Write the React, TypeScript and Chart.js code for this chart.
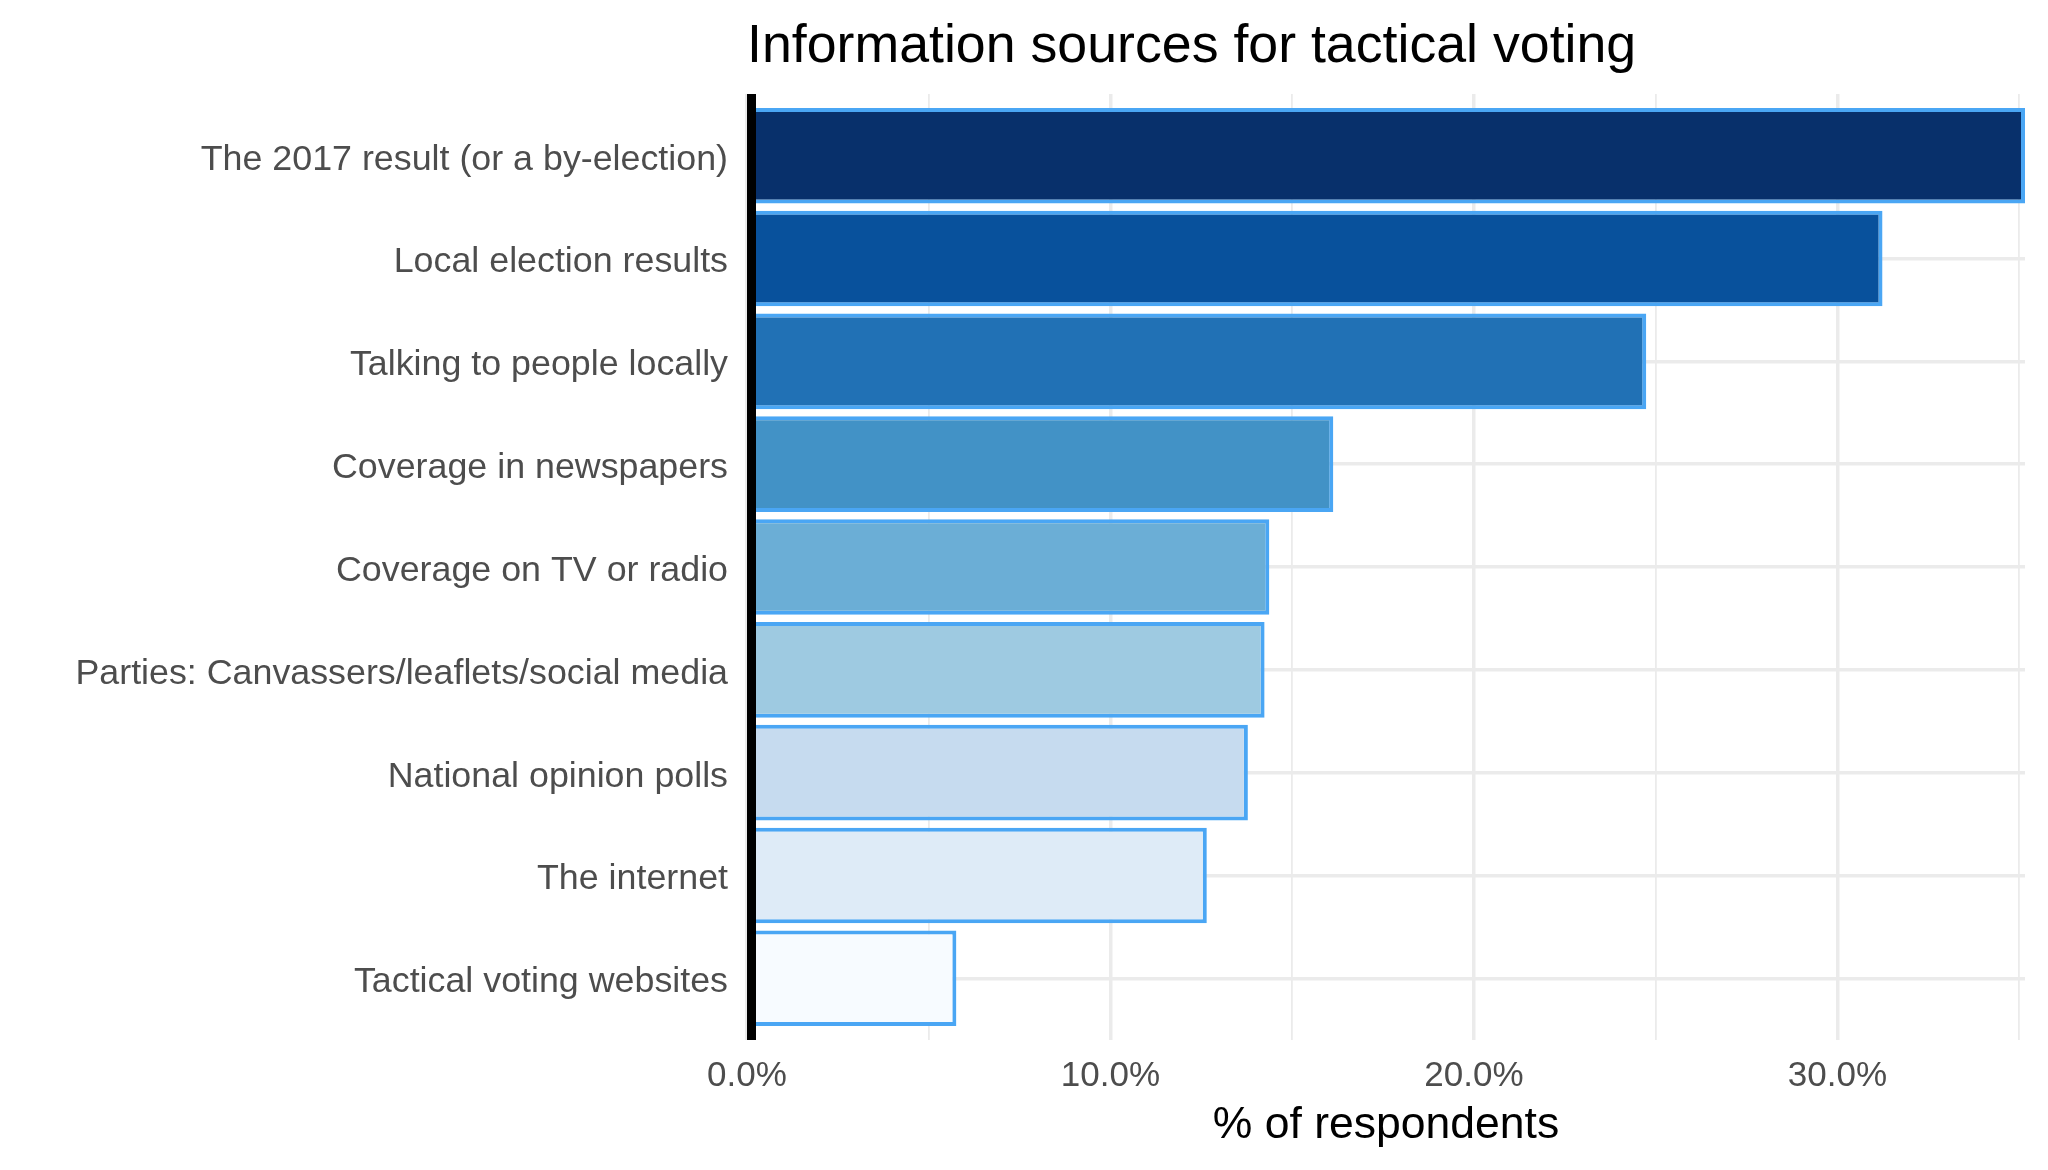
import React, { useEffect, useRef } from "react";
import { Chart, registerables } from "chart.js";

Chart.register(...registerables);

const FONT = '"Liberation Sans", Arial, Helvetica, sans-serif';

const TITLE = "Information sources for tactical voting";
const X_TITLE = "% of respondents";

const categories = [
  "The 2017 result (or a by-election)",
  "Local election results",
  "Talking to people locally",
  "Coverage in newspapers",
  "Coverage on TV or radio",
  "Parties: Canvassers/leaflets/social media",
  "National opinion polls",
  "The internet",
  "Tactical voting websites",
];

const values = [35.16, 31.24, 24.74, 16.13, 14.37, 14.24, 13.78, 12.65, 5.76];

const barColors = [
  "#08306B",
  "#08519C",
  "#2171B5",
  "#4292C6",
  "#6BAED6",
  "#9ECAE1",
  "#C6DBEF",
  "#DEEBF7",
  "#F7FBFF",
];

const BORDER_COLOR = "#4AA6F4";

const majorTicks = [0, 10, 20, 30];
const minorTicks = [5, 15, 25, 35];
const tickLabels = ["0.0%", "10.0%", "20.0%", "30.0%"];

export default function App() {
  const ref = useRef<HTMLCanvasElement>(null);

  useEffect(() => {
    const canvas = ref.current;
    if (!canvas) return;

    const titlePlugin = {
      id: "plotTitle",
      afterDraw(chart: any) {
        const { ctx, chartArea } = chart;
        ctx.save();
        ctx.font = `53.7px ${FONT}`;
        ctx.fillStyle = "#000000";
        ctx.textAlign = "left";
        ctx.textBaseline = "alphabetic";
        ctx.fillText(TITLE, chartArea.left, 62);
        ctx.restore();
      },
    };

    const axisLinePlugin = {
      id: "axisLine",
      afterDatasetsDraw(chart: any) {
        const { ctx, chartArea } = chart;
        ctx.save();
        ctx.fillStyle = "#000000";
        ctx.fillRect(chartArea.left, chartArea.top, 9, chartArea.bottom - chartArea.top);
        ctx.restore();
      },
    };

    const chart = new Chart(canvas, {
      type: "bar",
      data: {
        datasets: [
          {
            data: values.map((v, i) => ({ x: v, y: i })),
            backgroundColor: barColors,
            borderColor: BORDER_COLOR,
            borderWidth: 4,
            borderSkipped: false,
            categoryPercentage: 1,
            barPercentage: 0.93,
          } as any,
        ],
      },
      options: {
        indexAxis: "y",
        responsive: false,
        devicePixelRatio: 1,
        animation: false,
        layout: { padding: { top: 94, right: 23, left: 0, bottom: 0 } },
        plugins: {
          legend: { display: false },
          tooltip: { enabled: false },
          title: { display: false },
        },
        scales: {
          x: {
            type: "linear",
            position: "bottom",
            min: 0,
            max: Math.max(...values),
            offset: false,
            afterBuildTicks: (s: any) => {
              s.ticks = [...majorTicks, ...minorTicks]
                .sort((a, b) => a - b)
                .map((v) => ({ value: v }));
            },
            afterFit: (s: any) => {
              s.height = 130;
            },
            ticks: {
              autoSkip: false,
              maxRotation: 0,
              minRotation: 0,
              padding: 15,
              color: "#4D4D4D",
              font: { size: 35, family: FONT },
              callback: (v: any) => {
                const i = majorTicks.indexOf(Number(v));
                return i >= 0 ? tickLabels[i] : "";
              },
            },
            grid: {
              color: "#EBEBEB",
              offset: false,
              lineWidth: (ctx: any) =>
                ctx.tick && majorTicks.includes(ctx.tick.value) ? 3.5 : 1.8,
              drawTicks: false,
            },
            border: { display: false },
            title: {
              display: true,
              text: X_TITLE,
              color: "#000000",
              font: { size: 44.5, family: FONT },
              padding: { top: 0, bottom: 18 },
            },
          },
          y: {
            type: "linear",
            reverse: true,
            offset: false,
            min: -0.6,
            max: categories.length - 1 + 0.6,
            afterBuildTicks: (s: any) => {
              s.ticks = categories.map((_, i) => ({ value: i }));
            },
            afterFit: (s: any) => {
              s.width = 747;
            },
            ticks: {
              autoSkip: false,
              padding: 19,
              labelOffset: 4,
              color: "#4D4D4D",
              font: { size: 35.8, family: FONT },
              callback: (v: any) => categories[Math.round(Number(v))] ?? "",
            },
            grid: {
              color: "#EBEBEB",
              offset: false,
              lineWidth: 3.5,
              drawTicks: false,
            },
            border: { display: false },
          },
        },
      } as any,
      plugins: [titlePlugin, axisLinePlugin],
    });

    return () => chart.destroy();
  }, []);

  return (
    <div
      style={{
        position: "fixed",
        left: 0,
        top: 0,
        width: 2048,
        height: 1170,
        background: "#ffffff",
      }}
    >
      <canvas ref={ref} width={2048} height={1170} style={{ width: 2048, height: 1170, display: "block" }} />
    </div>
  );
}
